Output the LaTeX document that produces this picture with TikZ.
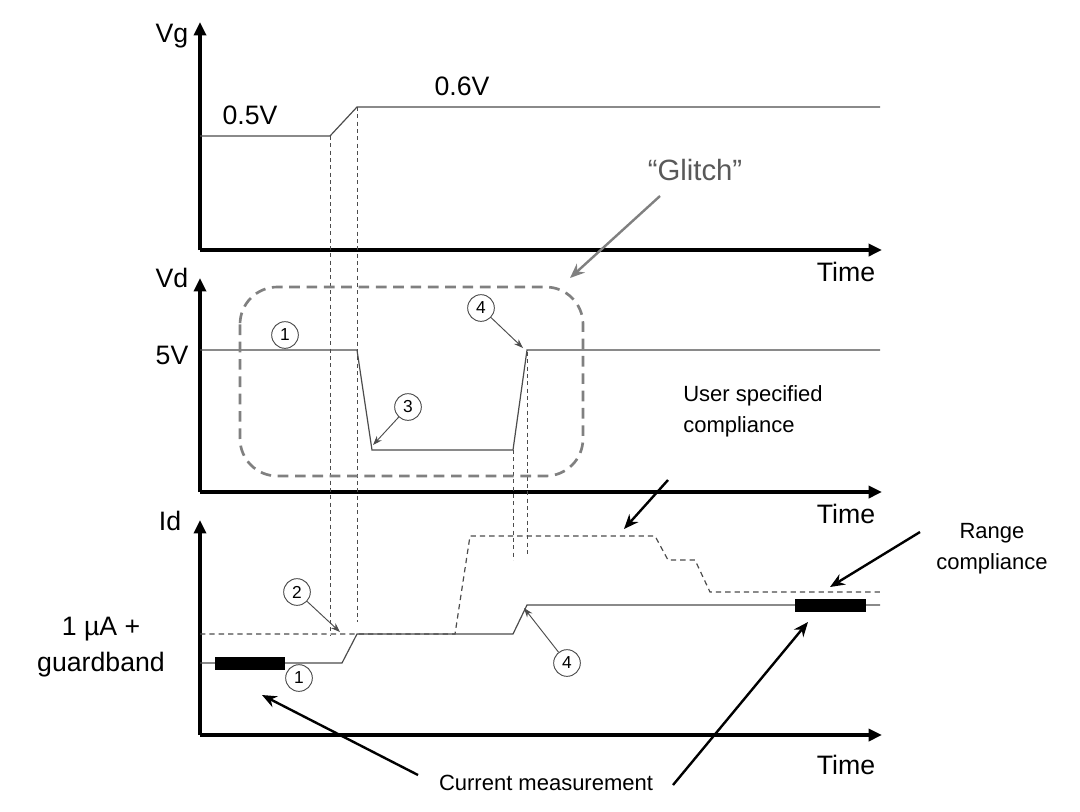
\documentclass[tikz,border=0pt]{standalone}
\usepackage{fontspec}
\setmainfont{Liberation Sans}
\usetikzlibrary{arrows.meta}
\begin{document}
\begin{tikzpicture}[x=0.75pt,y=-0.75pt,
  axis/.style={line width=2.6pt,-{Triangle[length=10pt,width=9pt]}},
  sig/.style={line width=0.9pt,gray!60!black},
  dsig/.style={sig,dash pattern=on 4pt off 3pt},
  vdash/.style={line width=0.5pt,gray!60!black,dash pattern=on 3pt off 2.5pt},
  lbl/.style={font=\fontsize{20}{22}\selectfont,inner sep=0pt},
  small/.style={font=\fontsize{16.5}{19}\selectfont,inner sep=0pt,align=left},
  circ/.style={circle,draw=gray!60!black,line width=0.7pt,minimum size=20pt,inner sep=0pt,font=\fontsize{13}{14}\selectfont},
  thin/.style={gray!60!black,line width=0.7pt,-{Stealth[length=7pt,width=5pt]}},
  bold/.style={black,line width=1.8pt,-{Stealth[length=11pt,width=9pt]}},
  bar/.style={fill=black,draw=none}]
\useasboundingbox (0,0) rectangle (1080,811);
% axes
\coordinate (o1) at (200,250); \coordinate (o2) at (200,492); \coordinate (o3) at (200,735);
\draw[axis] (o1) -- (200,22); \draw[axis] (o1) -- (882,250);
\draw[axis] (o2) -- (200,278); \draw[axis] (o2) -- (882,492);
\draw[axis] (o3) -- (200,520); \draw[axis] (o3) -- (882,735);
\node[lbl] (vg) at (172,36) {Vg};
\node[lbl] (vd) at (172,278) {Vd};
\node[lbl] (id) at (170,521) {Id};
\node[lbl] (t1) at (846,272) {Time};
\node[lbl] (t2) at (846,514) {Time};
\node[lbl] (t3) at (846,765) {Time};
% Vg
\draw[sig] (200,136) -- (330,136) -- (357,107) -- (880,107);
\node[lbl] (v05) at (250,115) {0.5V};
\node[lbl] (v06) at (462,86) {0.6V};
% vertical dashed
\draw[vdash] (330,136) -- (330,636);
\draw[vdash] (357,107) -- (357,622);
\draw[vdash] (513,450) -- (513,560);
\draw[vdash] (527,352) -- (527,555);
% Vd
\draw[sig] (200,350) -- (357,350) -- (372,450) -- (513,450) -- (527,350) -- (880,350);
\node[lbl] (v5) at (172,355) {5V};
\draw[gray,line width=2pt,dash pattern=on 8pt off 5pt,rounded corners=28pt] (240,287) rectangle (583,476);
\node[font=\fontsize{22}{24}\selectfont,text=gray!70!black] (gl) at (695,170) {“Glitch”};
\draw[gray,line width=1.8pt,-{Stealth[length=11pt,width=9pt]}] (660,196) -- (570,278);
\node[circ] (c1) at (285,335) {1};
\node[circ] (c3) at (408,407) {3};
\node[circ] (c4) at (481,308) {4};
\draw[thin] (c3) -- (373,445);
\draw[thin] (c4) -- (523,348);
% Id
\draw[sig] (200,663) -- (342,663) -- (357,634) -- (513,634) -- (527,605) -- (880,605);
\draw[dsig] (200,634) -- (455,634) -- (470,536) -- (655,536) -- (668,560) -- (695,560) -- (710,592) -- (880,592);
\fill[bar] (215,657) rectangle (285,670);
\fill[bar] (795,599) rectangle (866,612);
\node[circ] (c2) at (297,592) {2};
\node[circ] (c1b) at (299,678) {1};
\node[circ] (c4b) at (567,663) {4};
\draw[thin] (c2) -- (340,632);
\draw[thin] (c4b) -- (524,608);
\node[lbl,align=center] (ua) at (101,647) {1 µA +\\[5pt]guardband};
\node[small,anchor=west] (usc) at (683,411) {User specified\\[4pt]compliance};
\draw[bold] (668,480) -- (624,529);
\node[small,align=center] (rc) at (992,549) {Range\\[4pt]compliance};
\draw[bold] (920,532) -- (830,587);
\node[small] (cm) at (546,783) {Current measurement};
\draw[bold] (418,775) -- (262,695);
\draw[bold] (673,785) -- (808,622);
\end{tikzpicture}
\end{document}
